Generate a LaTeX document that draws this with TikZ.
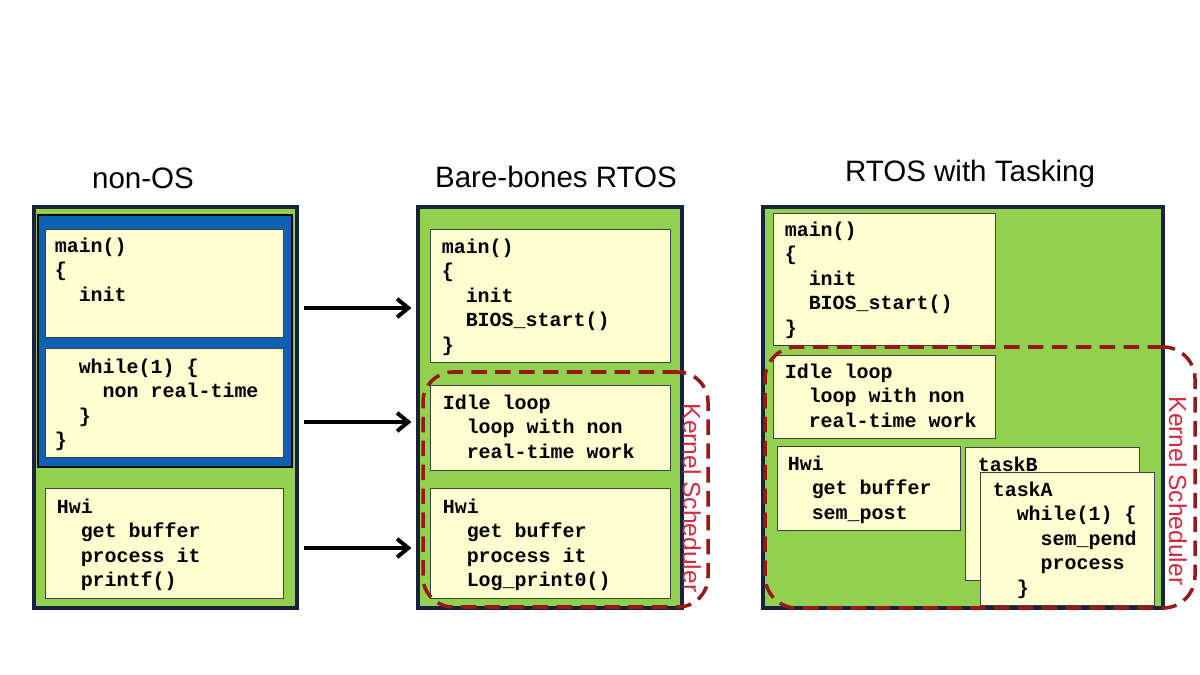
\documentclass[tikz,border=0pt]{standalone}
\usepackage{fontspec}
\setmainfont{Liberation Sans}
\newfontfamily\codefamily{Liberation Mono}
\usetikzlibrary{arrows.meta, calc, fit}
\definecolor{panelGreen}{RGB}{146, 208, 80}
\definecolor{panelNavy}{RGB}{24, 34, 62}
\definecolor{codeYellow}{RGB}{255, 255, 210}
\definecolor{loopBlue}{RGB}{12, 98, 178}
\definecolor{kernelRed}{RGB}{150, 24, 24}
\definecolor{kernelText}{RGB}{208, 44, 64}
\newcommand{\fCode}{\codefamily\bfseries\fontsize{14.2}{17.4}\selectfont}
\newcommand{\fHead}{\fontsize{21}{25}\selectfont}
\newcommand{\fKernel}{\fontsize{17.5}{20}\selectfont}
\newcommand{\cInd}{\hspace*{1.2em}}
\newcommand{\lOsMain}{main()\\\{\\\cInd init}
\newcommand{\lOsLoop}{\cInd while(1) \{\\\cInd\cInd non real-time\\\cInd\}\\\}}
\newcommand{\lOsHwi}{Hwi\\\cInd get buffer\\\cInd process it\\\cInd printf()}
\newcommand{\lBareMain}{main()\\\{\\\cInd init\\\cInd BIOS\_start()\\\}}
\newcommand{\lIdle}{Idle loop\\\cInd loop with non\\\cInd real-time work}
\newcommand{\lBareHwi}{Hwi\\\cInd get buffer\\\cInd process it\\\cInd Log\_print0()}
\newcommand{\lTaskHwi}{Hwi\\\cInd get buffer\\\cInd sem\_post}
\newcommand{\lTaskB}{taskB}
\newcommand{\lTaskA}{taskA\\\cInd while(1) \{\\\cInd\cInd sem\_pend\\\cInd\cInd process\\\cInd\}}

\begin{document}
\begin{tikzpicture} [
        x=0.025cm, y=-0.025cm,
        panel/.style={draw=panelNavy, line width=2.2pt, fill=panelGreen, inner sep=0pt},
        loop band/.style={draw=black, line width=1.5pt, fill=loopBlue, inner sep=0pt},
        code box/.style={draw=black!75, line width=0.7pt, fill=codeYellow, inner sep=0pt},
        code text/.style={font=\fCode, align=left, anchor=north west, inner sep=0pt},
        heading/.style={font=\fHead},
        kernel/.style={draw=kernelRed, line width=2.5pt, dash pattern=on 11pt off 6pt, rounded corners=0.75cm, inner sep=0pt},
        kernel label/.style={font=\fKernel, text=kernelText, rotate=-90},
        flow/.style={line width=2.8pt, -{Straight Barb[length=8pt, width=13pt]}}
    ]

    \useasboundingbox (0,0) rectangle (1200,675);

    \node[heading] (non os title) at (143,178) {non-OS};
    \node[heading] (bare title) at (556,177) {Bare-bones RTOS};
    \node[heading] (tasking title) at (970,174) {RTOS with Tasking};

    % non-OS
    \node[panel, fit={(34,207) (297,608)}] (non os) {};
    \node[loop band, fit={(38,215) (292,467)}] (os band) {};
    \node[code box, fit={(45,229) (283,337)}] (os main) {};
    \node[code box, fit={(45,348) (283,457)}] (os loop) {};
    \node[code box, fit={(45,488) (283,598)}] (os hwi) {};
    \node[code text] (os main text) at ($(os main.north west)+(10,9)$) {\lOsMain};
    \node[code text] (os loop text) at ($(os loop.north west)+(10,11)$) {\lOsLoop};
    \node[code text] (os hwi text) at ($(os hwi.north west)+(12,11)$) {\lOsHwi};

    % bare-bones RTOS
    \node[panel, fit={(418,207) (682,608)}] (bare) {};
    \node[code box, fit={(430,229) (670,362)}] (bare main) {};
    \node[code box, fit={(430,385) (670,470)}] (bare idle) {};
    \node[code box, fit={(430,488) (670,598)}] (bare hwi) {};
    \node[code text] (bare main text) at ($(bare main.north west)+(12,10)$) {\lBareMain};
    \node[code text] (bare idle text) at ($(bare idle.north west)+(13,10)$) {\lIdle};
    \node[code text] (bare hwi text) at ($(bare hwi.north west)+(13,11)$) {\lBareHwi};
    \node[kernel, fit={(423,372) (708,607)}] (bare kernel) {};
    \node[kernel label] (bare kernel label) at (692,498) {Kernel Scheduler};

    % RTOS with tasking
    \node[panel, fit={(763,207) (1163,608)}] (tasking) {};
    \node[code box, fit={(773,213) (995,345)}] (task main) {};
    \node[code box, fit={(773,355) (995,438)}] (task idle) {};
    \node[code box, fit={(777,446) (960,530)}] (task hwi) {};
    \node[code box, fit={(965,447) (1139,580)}] (task b) {};
    \node[code text] (task b text) at ($(task b.north west)+(13,10)$) {\lTaskB};
    \node[code box, fit={(980,472) (1154,605)}] (task a) {};
    \node[code text] (task main text) at ($(task main.north west)+(12,9)$) {\lOsMain\\\cInd BIOS\_start()\\\}};
    \node[code text] (task idle text) at ($(task idle.north west)+(12,9)$) {\lIdle};
    \node[code text] (task hwi text) at ($(task hwi.north west)+(11,10)$) {\lTaskHwi};
    \node[code text] (task a text) at ($(task a.north west)+(13,10)$) {\lTaskA};
    \node[kernel, rounded corners=0.8cm, fit={(765,347) (1195,608)}] (tasking kernel) {};
    \node[kernel label] (tasking kernel label) at (1178,491) {Kernel Scheduler};

    % arrows between the first two panels
    \coordinate (row main) at (0,308);
    \coordinate (row idle) at (0,422);
    \coordinate (row hwi) at (0,548);
    \draw[flow] ($(non os.east |- row main)+(5,0)$) -- ($(bare.west |- row main)+(-5,0)$);
    \draw[flow] ($(non os.east |- row idle)+(5,0)$) -- ($(bare.west |- row idle)+(-5,0)$);
    \draw[flow] ($(non os.east |- row hwi)+(5,0)$) -- ($(bare.west |- row hwi)+(-5,0)$);

\end{tikzpicture}
\end{document}
